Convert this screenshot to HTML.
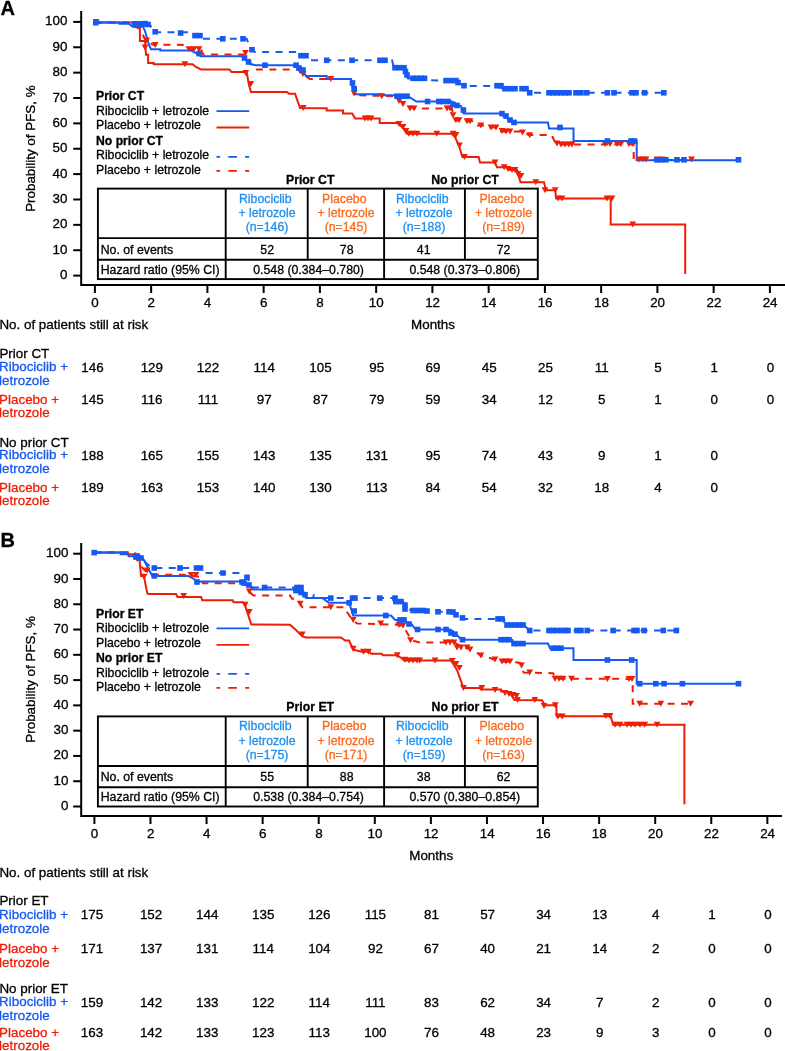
<!DOCTYPE html>
<html><head><meta charset="utf-8"><title>PFS by prior therapy</title>
<style>
html,body{margin:0;padding:0;background:#fff;overflow:hidden;}
svg{display:block;}
text{font-family:"Liberation Sans",Arial,Helvetica,sans-serif;stroke-width:0.3px;}
</style></head>
<body>
<svg width="785" height="1051" viewBox="0 0 785 1051">
<rect width="785" height="1051" fill="#fff"/>
<text x="0.4" y="14.9" font-size="20" font-weight="bold" stroke="#000">A</text>
<path d="M81.2,11 V285 H786" fill="none" stroke="#000" stroke-width="2"/>
<line x1="73.2" y1="275.60" x2="81.2" y2="275.60" stroke="#000" stroke-width="2"/>
<text x="67.4" y="279.1" font-size="13.4" text-anchor="end" stroke="#000">0</text>
<line x1="73.2" y1="250.23" x2="81.2" y2="250.23" stroke="#000" stroke-width="2"/>
<text x="67.4" y="253.7" font-size="13.4" text-anchor="end" stroke="#000">10</text>
<line x1="73.2" y1="224.86" x2="81.2" y2="224.86" stroke="#000" stroke-width="2"/>
<text x="67.4" y="228.4" font-size="13.4" text-anchor="end" stroke="#000">20</text>
<line x1="73.2" y1="199.49" x2="81.2" y2="199.49" stroke="#000" stroke-width="2"/>
<text x="67.4" y="203.0" font-size="13.4" text-anchor="end" stroke="#000">30</text>
<line x1="73.2" y1="174.12" x2="81.2" y2="174.12" stroke="#000" stroke-width="2"/>
<text x="67.4" y="177.6" font-size="13.4" text-anchor="end" stroke="#000">40</text>
<line x1="73.2" y1="148.75" x2="81.2" y2="148.75" stroke="#000" stroke-width="2"/>
<text x="67.4" y="152.3" font-size="13.4" text-anchor="end" stroke="#000">50</text>
<line x1="73.2" y1="123.38" x2="81.2" y2="123.38" stroke="#000" stroke-width="2"/>
<text x="67.4" y="126.9" font-size="13.4" text-anchor="end" stroke="#000">60</text>
<line x1="73.2" y1="98.01" x2="81.2" y2="98.01" stroke="#000" stroke-width="2"/>
<text x="67.4" y="101.5" font-size="13.4" text-anchor="end" stroke="#000">70</text>
<line x1="73.2" y1="72.64" x2="81.2" y2="72.64" stroke="#000" stroke-width="2"/>
<text x="67.4" y="76.1" font-size="13.4" text-anchor="end" stroke="#000">80</text>
<line x1="73.2" y1="47.27" x2="81.2" y2="47.27" stroke="#000" stroke-width="2"/>
<text x="67.4" y="50.8" font-size="13.4" text-anchor="end" stroke="#000">90</text>
<line x1="73.2" y1="21.90" x2="81.2" y2="21.90" stroke="#000" stroke-width="2"/>
<text x="67.4" y="25.4" font-size="13.4" text-anchor="end" stroke="#000">100</text>
<line x1="94.90" y1="285" x2="94.90" y2="293" stroke="#000" stroke-width="2"/>
<text x="95.1" y="306.6" font-size="13.4" text-anchor="middle" stroke="#000">0</text>
<line x1="151.15" y1="285" x2="151.15" y2="293" stroke="#000" stroke-width="2"/>
<text x="151.3" y="306.6" font-size="13.4" text-anchor="middle" stroke="#000">2</text>
<line x1="207.40" y1="285" x2="207.40" y2="293" stroke="#000" stroke-width="2"/>
<text x="207.6" y="306.6" font-size="13.4" text-anchor="middle" stroke="#000">4</text>
<line x1="263.65" y1="285" x2="263.65" y2="293" stroke="#000" stroke-width="2"/>
<text x="263.8" y="306.6" font-size="13.4" text-anchor="middle" stroke="#000">6</text>
<line x1="319.90" y1="285" x2="319.90" y2="293" stroke="#000" stroke-width="2"/>
<text x="320.1" y="306.6" font-size="13.4" text-anchor="middle" stroke="#000">8</text>
<line x1="376.15" y1="285" x2="376.15" y2="293" stroke="#000" stroke-width="2"/>
<text x="376.3" y="306.6" font-size="13.4" text-anchor="middle" stroke="#000">10</text>
<line x1="432.40" y1="285" x2="432.40" y2="293" stroke="#000" stroke-width="2"/>
<text x="432.6" y="306.6" font-size="13.4" text-anchor="middle" stroke="#000">12</text>
<line x1="488.65" y1="285" x2="488.65" y2="293" stroke="#000" stroke-width="2"/>
<text x="488.8" y="306.6" font-size="13.4" text-anchor="middle" stroke="#000">14</text>
<line x1="544.90" y1="285" x2="544.90" y2="293" stroke="#000" stroke-width="2"/>
<text x="545.1" y="306.6" font-size="13.4" text-anchor="middle" stroke="#000">16</text>
<line x1="601.15" y1="285" x2="601.15" y2="293" stroke="#000" stroke-width="2"/>
<text x="601.4" y="306.6" font-size="13.4" text-anchor="middle" stroke="#000">18</text>
<line x1="657.40" y1="285" x2="657.40" y2="293" stroke="#000" stroke-width="2"/>
<text x="657.6" y="306.6" font-size="13.4" text-anchor="middle" stroke="#000">20</text>
<line x1="713.65" y1="285" x2="713.65" y2="293" stroke="#000" stroke-width="2"/>
<text x="713.9" y="306.6" font-size="13.4" text-anchor="middle" stroke="#000">22</text>
<line x1="769.90" y1="285" x2="769.90" y2="293" stroke="#000" stroke-width="2"/>
<text x="770.1" y="306.6" font-size="13.4" text-anchor="middle" stroke="#000">24</text>
<text x="433.0" y="329.1" font-size="13.4" text-anchor="middle" stroke="#000">Months</text>
<text transform="translate(35.0,148.6) rotate(-90)" stroke="#000" font-size="13.4" text-anchor="middle">Probability of PFS, %</text>
<polyline points="95.0,22.4 129.7,22.4 133.0,26.0 139.0,28.3 143.0,35.0 145.5,40.5 150.0,40.5 152.0,44.6 183.0,44.9 186.0,49.2 201.0,49.2 203.0,54.6 246.6,54.6 250.0,62.0 253.0,67.6 255.0,69.4 298.6,69.4 302.0,74.0 305.0,76.0 310.0,78.9 351.0,78.9 354.0,95.2 396.0,96.2 400.0,100.3 404.0,104.4 408.0,106.0 416.0,108.5 452.0,108.5 453.0,115.2 455.0,120.3 465.0,120.3 467.0,121.3 475.0,121.3 477.0,125.4 488.0,125.4 490.0,127.5 499.0,127.5 501.0,131.5 520.0,131.5 522.0,133.5 529.7,135.0 552.0,135.0 553.0,138.0 556.0,143.8 560.0,144.5 633.7,144.5 633.7,160.0 691.5,160.0" fill="none" stroke="#ee1d05" stroke-width="2" stroke-linejoin="miter" stroke-dasharray="7 6.4"/>
<polyline points="95.0,22.4 139.9,22.4 139.9,41.0 145.0,41.0 146.0,54.8 148.1,54.8 148.1,62.9 153.7,62.9 153.7,64.2 192.5,64.2 196.0,67.0 201.0,69.4 229.3,69.4 231.5,72.0 246.6,72.0 249.0,85.0 251.0,92.0 287.0,92.0 289.0,93.7 295.0,93.7 298.0,102.2 300.0,108.0 326.7,108.3 326.7,110.4 343.0,110.4 343.0,113.4 352.2,113.4 355.2,118.5 379.7,118.5 379.7,123.0 398.0,123.0 403.0,128.0 407.0,133.8 452.0,133.8 455.0,137.0 459.0,145.5 462.4,157.1 478.7,157.1 480.0,162.4 495.0,162.4 497.0,167.3 507.0,167.3 510.0,170.0 517.0,170.0 520.5,182.2 544.0,182.2 546.0,190.3 555.2,190.3 556.2,198.5 610.7,198.5 610.7,224.4 685.2,224.4 685.2,274.0" fill="none" stroke="#ee1d05" stroke-width="2" stroke-linejoin="miter"/>
<polyline points="95.0,22.4 133.0,22.4 133.0,25.7 150.6,25.7 153.0,32.3 190.0,32.3 193.0,35.6 203.0,35.6 203.0,38.8 246.6,38.8 251.0,49.5 255.0,52.0 299.0,52.0 301.0,55.7 308.0,55.7 311.0,60.3 392.0,60.3 394.0,67.7 404.0,67.7 408.0,78.5 425.0,78.5 427.0,80.3 456.0,80.6 458.0,82.6 464.0,85.7 466.0,86.0 497.0,86.0 503.0,88.7 527.0,88.7 530.0,92.8 666.0,92.8" fill="none" stroke="#1659f1" stroke-width="2" stroke-linejoin="miter" stroke-dasharray="7 6.4"/>
<polyline points="95.0,22.4 119.5,22.4 119.5,23.7 128.7,23.7 132.8,26.7 143.0,26.7 145.0,31.0 147.0,38.0 149.0,45.0 151.0,49.2 160.3,49.2 160.3,50.6 191.0,50.6 196.0,53.0 201.0,56.3 242.0,56.3 246.0,60.0 250.0,64.0 256.0,65.2 298.0,65.2 302.0,70.0 306.0,75.9 326.7,75.9 326.7,78.9 351.0,78.9 354.0,94.2 381.7,94.2 381.7,95.2 396.0,95.2 408.0,96.2 416.4,101.5 452.0,101.5 456.0,104.0 459.0,105.4 461.0,106.0 463.5,113.6 500.0,113.6 505.0,117.0 510.0,120.0 516.4,122.4 548.0,122.4 549.0,128.5 573.5,128.5 573.5,141.0 636.7,141.0 636.7,160.3 738.7,160.3" fill="none" stroke="#1659f1" stroke-width="2" stroke-linejoin="miter"/>
<path d="M92.8,19.0h6.8l-3.4,6z" fill="#ee1d05"/>
<path d="M143.2,37.5h6.8l-3.4,6z" fill="#ee1d05"/>
<path d="M151.8,42.1h6.8l-3.4,6z" fill="#ee1d05"/>
<path d="M185.6,46.2h6.8l-3.4,6z" fill="#ee1d05"/>
<path d="M190.6,46.2h6.8l-3.4,6z" fill="#ee1d05"/>
<path d="M195.6,46.2h6.8l-3.4,6z" fill="#ee1d05"/>
<path d="M242.1,50.0h6.8l-3.4,6z" fill="#ee1d05"/>
<path d="M296.6,68.0h6.8l-3.4,6z" fill="#ee1d05"/>
<path d="M299.6,71.0h6.8l-3.4,6z" fill="#ee1d05"/>
<path d="M327.4,75.9h6.8l-3.4,6z" fill="#ee1d05"/>
<path d="M350.8,90.2h6.8l-3.4,6z" fill="#ee1d05"/>
<path d="M378.3,93.2h6.8l-3.4,6z" fill="#ee1d05"/>
<path d="M395.6,98.0h6.8l-3.4,6z" fill="#ee1d05"/>
<path d="M399.6,101.0h6.8l-3.4,6z" fill="#ee1d05"/>
<path d="M406.6,105.5h6.8l-3.4,6z" fill="#ee1d05"/>
<path d="M410.6,105.5h6.8l-3.4,6z" fill="#ee1d05"/>
<path d="M443.6,105.5h6.8l-3.4,6z" fill="#ee1d05"/>
<path d="M446.6,105.5h6.8l-3.4,6z" fill="#ee1d05"/>
<path d="M449.6,112.2h6.8l-3.4,6z" fill="#ee1d05"/>
<path d="M452.6,117.3h6.8l-3.4,6z" fill="#ee1d05"/>
<path d="M455.6,117.3h6.8l-3.4,6z" fill="#ee1d05"/>
<path d="M463.6,118.3h6.8l-3.4,6z" fill="#ee1d05"/>
<path d="M466.6,118.3h6.8l-3.4,6z" fill="#ee1d05"/>
<path d="M477.4,122.4h6.8l-3.4,6z" fill="#ee1d05"/>
<path d="M487.6,124.5h6.8l-3.4,6z" fill="#ee1d05"/>
<path d="M492.6,124.5h6.8l-3.4,6z" fill="#ee1d05"/>
<path d="M498.6,128.0h6.8l-3.4,6z" fill="#ee1d05"/>
<path d="M502.6,128.5h6.8l-3.4,6z" fill="#ee1d05"/>
<path d="M506.6,128.5h6.8l-3.4,6z" fill="#ee1d05"/>
<path d="M519.1,129.5h6.8l-3.4,6z" fill="#ee1d05"/>
<path d="M526.3,132.2h6.8l-3.4,6z" fill="#ee1d05"/>
<path d="M553.6,140.5h6.8l-3.4,6z" fill="#ee1d05"/>
<path d="M557.6,141.5h6.8l-3.4,6z" fill="#ee1d05"/>
<path d="M561.6,141.5h6.8l-3.4,6z" fill="#ee1d05"/>
<path d="M565.6,141.5h6.8l-3.4,6z" fill="#ee1d05"/>
<path d="M568.6,141.5h6.8l-3.4,6z" fill="#ee1d05"/>
<path d="M601.6,141.0h6.8l-3.4,6z" fill="#ee1d05"/>
<path d="M606.6,141.0h6.8l-3.4,6z" fill="#ee1d05"/>
<path d="M613.6,141.0h6.8l-3.4,6z" fill="#ee1d05"/>
<path d="M617.6,141.0h6.8l-3.4,6z" fill="#ee1d05"/>
<path d="M625.6,141.0h6.8l-3.4,6z" fill="#ee1d05"/>
<path d="M629.6,141.0h6.8l-3.4,6z" fill="#ee1d05"/>
<path d="M635.6,156.4h6.8l-3.4,6z" fill="#ee1d05"/>
<path d="M639.6,156.4h6.8l-3.4,6z" fill="#ee1d05"/>
<path d="M642.6,156.4h6.8l-3.4,6z" fill="#ee1d05"/>
<path d="M653.6,156.4h6.8l-3.4,6z" fill="#ee1d05"/>
<path d="M658.6,156.4h6.8l-3.4,6z" fill="#ee1d05"/>
<path d="M688.1,156.4h6.8l-3.4,6z" fill="#ee1d05"/>
<path d="M141.6,44.6h6.8l-3.4,6z" fill="#ee1d05"/>
<path d="M181.5,61.2h6.8l-3.4,6z" fill="#ee1d05"/>
<path d="M242.4,70.0h6.8l-3.4,6z" fill="#ee1d05"/>
<path d="M247.4,81.0h6.8l-3.4,6z" fill="#ee1d05"/>
<path d="M299.8,105.0h6.8l-3.4,6z" fill="#ee1d05"/>
<path d="M361.6,115.5h6.8l-3.4,6z" fill="#ee1d05"/>
<path d="M364.6,115.5h6.8l-3.4,6z" fill="#ee1d05"/>
<path d="M367.6,115.5h6.8l-3.4,6z" fill="#ee1d05"/>
<path d="M395.6,121.0h6.8l-3.4,6z" fill="#ee1d05"/>
<path d="M399.6,124.0h6.8l-3.4,6z" fill="#ee1d05"/>
<path d="M402.6,128.0h6.8l-3.4,6z" fill="#ee1d05"/>
<path d="M405.6,130.8h6.8l-3.4,6z" fill="#ee1d05"/>
<path d="M409.6,130.8h6.8l-3.4,6z" fill="#ee1d05"/>
<path d="M413.6,130.8h6.8l-3.4,6z" fill="#ee1d05"/>
<path d="M433.4,130.8h6.8l-3.4,6z" fill="#ee1d05"/>
<path d="M449.6,130.8h6.8l-3.4,6z" fill="#ee1d05"/>
<path d="M452.6,132.0h6.8l-3.4,6z" fill="#ee1d05"/>
<path d="M456.0,142.5h6.8l-3.4,6z" fill="#ee1d05"/>
<path d="M461.1,154.1h6.8l-3.4,6z" fill="#ee1d05"/>
<path d="M491.6,159.4h6.8l-3.4,6z" fill="#ee1d05"/>
<path d="M500.8,164.3h6.8l-3.4,6z" fill="#ee1d05"/>
<path d="M504.6,166.0h6.8l-3.4,6z" fill="#ee1d05"/>
<path d="M508.6,167.0h6.8l-3.4,6z" fill="#ee1d05"/>
<path d="M511.6,167.0h6.8l-3.4,6z" fill="#ee1d05"/>
<path d="M514.6,171.0h6.8l-3.4,6z" fill="#ee1d05"/>
<path d="M517.6,173.0h6.8l-3.4,6z" fill="#ee1d05"/>
<path d="M532.4,179.2h6.8l-3.4,6z" fill="#ee1d05"/>
<path d="M541.6,187.3h6.8l-3.4,6z" fill="#ee1d05"/>
<path d="M551.8,187.3h6.8l-3.4,6z" fill="#ee1d05"/>
<path d="M554.6,195.5h6.8l-3.4,6z" fill="#ee1d05"/>
<path d="M558.6,195.5h6.8l-3.4,6z" fill="#ee1d05"/>
<path d="M603.6,195.5h6.8l-3.4,6z" fill="#ee1d05"/>
<path d="M608.6,195.5h6.8l-3.4,6z" fill="#ee1d05"/>
<path d="M629.3,221.4h6.8l-3.4,6z" fill="#ee1d05"/>
<rect x="152.4" y="29.0" width="5.6" height="5.6" fill="#1659f1"/>
<rect x="177.8" y="30.2" width="5.6" height="5.6" fill="#1659f1"/>
<rect x="192.2" y="32.8" width="5.6" height="5.6" fill="#1659f1"/>
<rect x="197.2" y="32.8" width="5.6" height="5.6" fill="#1659f1"/>
<rect x="220.0" y="36.0" width="5.6" height="5.6" fill="#1659f1"/>
<rect x="240.2" y="36.0" width="5.6" height="5.6" fill="#1659f1"/>
<rect x="249.2" y="46.9" width="5.6" height="5.6" fill="#1659f1"/>
<rect x="298.2" y="52.9" width="5.6" height="5.6" fill="#1659f1"/>
<rect x="303.2" y="52.9" width="5.6" height="5.6" fill="#1659f1"/>
<rect x="323.9" y="57.5" width="5.6" height="5.6" fill="#1659f1"/>
<rect x="349.2" y="57.5" width="5.6" height="5.6" fill="#1659f1"/>
<rect x="377.2" y="57.5" width="5.6" height="5.6" fill="#1659f1"/>
<rect x="382.2" y="57.5" width="5.6" height="5.6" fill="#1659f1"/>
<rect x="392.2" y="64.9" width="5.6" height="5.6" fill="#1659f1"/>
<rect x="396.2" y="64.9" width="5.6" height="5.6" fill="#1659f1"/>
<rect x="401.2" y="64.9" width="5.6" height="5.6" fill="#1659f1"/>
<rect x="402.7" y="68.7" width="5.6" height="5.6" fill="#1659f1"/>
<rect x="404.2" y="72.2" width="5.6" height="5.6" fill="#1659f1"/>
<rect x="410.2" y="75.5" width="5.6" height="5.6" fill="#1659f1"/>
<rect x="414.2" y="75.5" width="5.6" height="5.6" fill="#1659f1"/>
<rect x="418.2" y="75.5" width="5.6" height="5.6" fill="#1659f1"/>
<rect x="421.7" y="75.5" width="5.6" height="5.6" fill="#1659f1"/>
<rect x="443.2" y="77.8" width="5.6" height="5.6" fill="#1659f1"/>
<rect x="448.2" y="77.8" width="5.6" height="5.6" fill="#1659f1"/>
<rect x="453.2" y="77.8" width="5.6" height="5.6" fill="#1659f1"/>
<rect x="455.2" y="79.8" width="5.6" height="5.6" fill="#1659f1"/>
<rect x="461.2" y="82.9" width="5.6" height="5.6" fill="#1659f1"/>
<rect x="494.2" y="82.9" width="5.6" height="5.6" fill="#1659f1"/>
<rect x="498.2" y="82.9" width="5.6" height="5.6" fill="#1659f1"/>
<rect x="502.2" y="85.9" width="5.6" height="5.6" fill="#1659f1"/>
<rect x="507.2" y="85.9" width="5.6" height="5.6" fill="#1659f1"/>
<rect x="512.2" y="85.9" width="5.6" height="5.6" fill="#1659f1"/>
<rect x="519.2" y="85.9" width="5.6" height="5.6" fill="#1659f1"/>
<rect x="523.2" y="85.9" width="5.6" height="5.6" fill="#1659f1"/>
<rect x="526.9" y="90.0" width="5.6" height="5.6" fill="#1659f1"/>
<rect x="546.2" y="90.0" width="5.6" height="5.6" fill="#1659f1"/>
<rect x="550.2" y="90.0" width="5.6" height="5.6" fill="#1659f1"/>
<rect x="554.2" y="90.0" width="5.6" height="5.6" fill="#1659f1"/>
<rect x="558.2" y="90.0" width="5.6" height="5.6" fill="#1659f1"/>
<rect x="562.2" y="90.0" width="5.6" height="5.6" fill="#1659f1"/>
<rect x="566.2" y="90.0" width="5.6" height="5.6" fill="#1659f1"/>
<rect x="573.2" y="90.0" width="5.6" height="5.6" fill="#1659f1"/>
<rect x="578.2" y="90.0" width="5.6" height="5.6" fill="#1659f1"/>
<rect x="584.0" y="90.0" width="5.6" height="5.6" fill="#1659f1"/>
<rect x="604.6" y="90.0" width="5.6" height="5.6" fill="#1659f1"/>
<rect x="611.2" y="90.0" width="5.6" height="5.6" fill="#1659f1"/>
<rect x="629.2" y="90.0" width="5.6" height="5.6" fill="#1659f1"/>
<rect x="633.2" y="90.0" width="5.6" height="5.6" fill="#1659f1"/>
<rect x="641.8" y="90.0" width="5.6" height="5.6" fill="#1659f1"/>
<rect x="661.0" y="90.0" width="5.6" height="5.6" fill="#1659f1"/>
<rect x="142.2" y="20.8" width="5.6" height="5.6" fill="#1659f1"/>
<rect x="145.2" y="21.7" width="5.6" height="5.6" fill="#1659f1"/>
<rect x="93.0" y="19.9" width="5.6" height="5.6" fill="#1659f1"/>
<rect x="131.7" y="21.0" width="5.6" height="5.6" fill="#1659f1"/>
<rect x="136.7" y="21.0" width="5.6" height="5.6" fill="#1659f1"/>
<rect x="141.7" y="21.2" width="5.6" height="5.6" fill="#1659f1"/>
<rect x="196.2" y="50.8" width="5.6" height="5.6" fill="#1659f1"/>
<rect x="241.7" y="55.2" width="5.6" height="5.6" fill="#1659f1"/>
<rect x="245.7" y="59.2" width="5.6" height="5.6" fill="#1659f1"/>
<rect x="262.2" y="62.4" width="5.6" height="5.6" fill="#1659f1"/>
<rect x="293.2" y="62.4" width="5.6" height="5.6" fill="#1659f1"/>
<rect x="296.2" y="65.2" width="5.6" height="5.6" fill="#1659f1"/>
<rect x="300.2" y="67.2" width="5.6" height="5.6" fill="#1659f1"/>
<rect x="349.7" y="80.2" width="5.6" height="5.6" fill="#1659f1"/>
<rect x="351.4" y="85.9" width="5.6" height="5.6" fill="#1659f1"/>
<rect x="394.2" y="93.4" width="5.6" height="5.6" fill="#1659f1"/>
<rect x="399.2" y="93.4" width="5.6" height="5.6" fill="#1659f1"/>
<rect x="404.2" y="93.4" width="5.6" height="5.6" fill="#1659f1"/>
<rect x="424.8" y="98.7" width="5.6" height="5.6" fill="#1659f1"/>
<rect x="436.0" y="98.7" width="5.6" height="5.6" fill="#1659f1"/>
<rect x="440.2" y="98.7" width="5.6" height="5.6" fill="#1659f1"/>
<rect x="445.2" y="98.7" width="5.6" height="5.6" fill="#1659f1"/>
<rect x="450.2" y="101.7" width="5.6" height="5.6" fill="#1659f1"/>
<rect x="454.2" y="102.6" width="5.6" height="5.6" fill="#1659f1"/>
<rect x="460.6" y="107.2" width="5.6" height="5.6" fill="#1659f1"/>
<rect x="499.2" y="110.8" width="5.6" height="5.6" fill="#1659f1"/>
<rect x="503.2" y="113.2" width="5.6" height="5.6" fill="#1659f1"/>
<rect x="507.2" y="117.2" width="5.6" height="5.6" fill="#1659f1"/>
<rect x="511.2" y="119.6" width="5.6" height="5.6" fill="#1659f1"/>
<rect x="557.2" y="124.7" width="5.6" height="5.6" fill="#1659f1"/>
<rect x="604.6" y="138.2" width="5.6" height="5.6" fill="#1659f1"/>
<rect x="628.2" y="138.2" width="5.6" height="5.6" fill="#1659f1"/>
<rect x="631.7" y="138.2" width="5.6" height="5.6" fill="#1659f1"/>
<rect x="654.2" y="157.0" width="5.6" height="5.6" fill="#1659f1"/>
<rect x="658.7" y="157.0" width="5.6" height="5.6" fill="#1659f1"/>
<rect x="663.0" y="157.0" width="5.6" height="5.6" fill="#1659f1"/>
<rect x="674.2" y="157.0" width="5.6" height="5.6" fill="#1659f1"/>
<rect x="681.2" y="157.0" width="5.6" height="5.6" fill="#1659f1"/>
<rect x="735.7" y="157.0" width="5.6" height="5.6" fill="#1659f1"/>
<text x="96.0" y="100.4" font-size="12.2" font-weight="bold" stroke="#000">Prior CT</text>
<text x="96.0" y="114.6" font-size="12.3" stroke="#000">Ribociclib + letrozole</text>
<text x="96.0" y="129.2" font-size="12.3" stroke="#000">Placebo + letrozole</text>
<text x="96.0" y="145.1" font-size="12.2" font-weight="bold" stroke="#000">No prior CT</text>
<text x="96.0" y="159.3" font-size="12.3" stroke="#000">Ribociclib + letrozole</text>
<text x="96.0" y="173.8" font-size="12.3" stroke="#000">Placebo + letrozole</text>
<line x1="216.5" y1="111.2" x2="249.2" y2="111.2" stroke="#1659f1" stroke-width="1.8"/>
<line x1="216.5" y1="127.5" x2="249.2" y2="127.5" stroke="#ee1d05" stroke-width="1.8"/>
<line x1="216.5" y1="156.9" x2="249.2" y2="156.9" stroke="#1659f1" stroke-width="1.8" stroke-dasharray="8.6 8.2" stroke-dashoffset="5"/>
<line x1="216.5" y1="170.9" x2="249.2" y2="170.9" stroke="#ee1d05" stroke-width="1.8" stroke-dasharray="8.6 8.2" stroke-dashoffset="5"/>
<rect x="97.9" y="188.6" width="439.9" height="90.50000000000003" fill="#fff" stroke="#000" stroke-width="1.9"/>
<line x1="225.7" y1="188.6" x2="225.7" y2="279.1" stroke="#000" stroke-width="1.9"/>
<line x1="307.7" y1="188.6" x2="307.7" y2="259.7" stroke="#000" stroke-width="1.9"/>
<line x1="384.1" y1="188.6" x2="384.1" y2="279.1" stroke="#000" stroke-width="1.9"/>
<line x1="464.9" y1="188.6" x2="464.9" y2="259.7" stroke="#000" stroke-width="1.9"/>
<line x1="97.9" y1="238.1" x2="537.8" y2="238.1" stroke="#000" stroke-width="1.9"/>
<line x1="97.9" y1="259.7" x2="537.8" y2="259.7" stroke="#000" stroke-width="1.9"/>
<text x="310.2" y="184.0" font-size="12.3" font-weight="bold" text-anchor="middle" stroke="#000">Prior CT</text>
<text x="465.0" y="184.0" font-size="12.3" font-weight="bold" text-anchor="middle" stroke="#000">No prior CT</text>
<text x="265.3" y="202.5" font-size="12.3" text-anchor="middle" fill="#1e90f0" stroke="#1e90f0">Ribociclib</text>
<text x="267.0" y="217.0" font-size="12.3" text-anchor="middle" fill="#1e90f0" stroke="#1e90f0">+ letrozole</text>
<text x="267.0" y="231.3" font-size="12.3" text-anchor="middle" fill="#1e90f0" stroke="#1e90f0">(n=146)</text>
<text x="344.3" y="202.5" font-size="12.3" text-anchor="middle" fill="#fb6a1e" stroke="#fb6a1e">Placebo</text>
<text x="346.0" y="217.0" font-size="12.3" text-anchor="middle" fill="#fb6a1e" stroke="#fb6a1e">+ letrozole</text>
<text x="346.0" y="231.3" font-size="12.3" text-anchor="middle" fill="#fb6a1e" stroke="#fb6a1e">(n=145)</text>
<text x="422.3" y="202.5" font-size="12.3" text-anchor="middle" fill="#1e90f0" stroke="#1e90f0">Ribociclib</text>
<text x="424.0" y="217.0" font-size="12.3" text-anchor="middle" fill="#1e90f0" stroke="#1e90f0">+ letrozole</text>
<text x="424.0" y="231.3" font-size="12.3" text-anchor="middle" fill="#1e90f0" stroke="#1e90f0">(n=188)</text>
<text x="501.8" y="202.5" font-size="12.3" text-anchor="middle" fill="#fb6a1e" stroke="#fb6a1e">Placebo</text>
<text x="503.5" y="217.0" font-size="12.3" text-anchor="middle" fill="#fb6a1e" stroke="#fb6a1e">+ letrozole</text>
<text x="503.5" y="231.3" font-size="12.3" text-anchor="middle" fill="#fb6a1e" stroke="#fb6a1e">(n=189)</text>
<text x="100.7" y="253.6" font-size="12.3" stroke="#000">No. of events</text>
<text x="100.7" y="273.5" font-size="12.3" stroke="#000">Hazard ratio (95% CI)</text>
<text x="267.2" y="253.6" font-size="12.3" text-anchor="middle" stroke="#000">52</text>
<text x="346.7" y="253.6" font-size="12.3" text-anchor="middle" stroke="#000">78</text>
<text x="423.7" y="253.6" font-size="12.3" text-anchor="middle" stroke="#000">41</text>
<text x="503.6" y="253.6" font-size="12.3" text-anchor="middle" stroke="#000">72</text>
<text x="308.6" y="273.5" font-size="12.3" text-anchor="middle" stroke="#000">0.548 (0.384–0.780)</text>
<text x="464.8" y="273.5" font-size="12.3" text-anchor="middle" stroke="#000">0.548 (0.373–0.806)</text>
<text x="-0.6" y="329.1" font-size="13.4" stroke="#000">No. of patients still at risk</text>
<text x="-0.6" y="358.2" font-size="13.4" stroke="#000">Prior CT</text>
<text x="-0.9" y="371.0" font-size="13.4" fill="#1659f1" stroke="#1659f1">Ribociclib +</text>
<text x="-0.9" y="384.9" font-size="13.4" fill="#1659f1" stroke="#1659f1">letrozole</text>
<text x="92.5" y="371.6" font-size="13.4" text-anchor="middle" stroke="#000">146</text>
<text x="151.8" y="371.6" font-size="13.4" text-anchor="middle" stroke="#000">129</text>
<text x="208.0" y="371.6" font-size="13.4" text-anchor="middle" stroke="#000">122</text>
<text x="264.2" y="371.6" font-size="13.4" text-anchor="middle" stroke="#000">114</text>
<text x="320.5" y="371.6" font-size="13.4" text-anchor="middle" stroke="#000">105</text>
<text x="376.8" y="371.6" font-size="13.4" text-anchor="middle" stroke="#000">95</text>
<text x="433.0" y="371.6" font-size="13.4" text-anchor="middle" stroke="#000">69</text>
<text x="489.2" y="371.6" font-size="13.4" text-anchor="middle" stroke="#000">45</text>
<text x="545.5" y="371.6" font-size="13.4" text-anchor="middle" stroke="#000">25</text>
<text x="601.8" y="371.6" font-size="13.4" text-anchor="middle" stroke="#000">11</text>
<text x="658.0" y="371.6" font-size="13.4" text-anchor="middle" stroke="#000">5</text>
<text x="714.2" y="371.6" font-size="13.4" text-anchor="middle" stroke="#000">1</text>
<text x="770.5" y="371.6" font-size="13.4" text-anchor="middle" stroke="#000">0</text>
<text x="-0.9" y="403.8" font-size="13.4" fill="#ee1d05" stroke="#ee1d05">Placebo +</text>
<text x="-0.9" y="417.4" font-size="13.4" fill="#ee1d05" stroke="#ee1d05">letrozole</text>
<text x="92.5" y="404.4" font-size="13.4" text-anchor="middle" stroke="#000">145</text>
<text x="151.8" y="404.4" font-size="13.4" text-anchor="middle" stroke="#000">116</text>
<text x="208.0" y="404.4" font-size="13.4" text-anchor="middle" stroke="#000">111</text>
<text x="264.2" y="404.4" font-size="13.4" text-anchor="middle" stroke="#000">97</text>
<text x="320.5" y="404.4" font-size="13.4" text-anchor="middle" stroke="#000">87</text>
<text x="376.8" y="404.4" font-size="13.4" text-anchor="middle" stroke="#000">79</text>
<text x="433.0" y="404.4" font-size="13.4" text-anchor="middle" stroke="#000">59</text>
<text x="489.2" y="404.4" font-size="13.4" text-anchor="middle" stroke="#000">34</text>
<text x="545.5" y="404.4" font-size="13.4" text-anchor="middle" stroke="#000">12</text>
<text x="601.8" y="404.4" font-size="13.4" text-anchor="middle" stroke="#000">5</text>
<text x="658.0" y="404.4" font-size="13.4" text-anchor="middle" stroke="#000">1</text>
<text x="714.2" y="404.4" font-size="13.4" text-anchor="middle" stroke="#000">0</text>
<text x="770.5" y="404.4" font-size="13.4" text-anchor="middle" stroke="#000">0</text>
<text x="-0.6" y="446.6" font-size="13.4" stroke="#000">No prior CT</text>
<text x="-0.9" y="459.4" font-size="13.4" fill="#1659f1" stroke="#1659f1">Ribociclib +</text>
<text x="-0.9" y="473.4" font-size="13.4" fill="#1659f1" stroke="#1659f1">letrozole</text>
<text x="92.5" y="460.0" font-size="13.4" text-anchor="middle" stroke="#000">188</text>
<text x="151.8" y="460.0" font-size="13.4" text-anchor="middle" stroke="#000">165</text>
<text x="208.0" y="460.0" font-size="13.4" text-anchor="middle" stroke="#000">155</text>
<text x="264.2" y="460.0" font-size="13.4" text-anchor="middle" stroke="#000">143</text>
<text x="320.5" y="460.0" font-size="13.4" text-anchor="middle" stroke="#000">135</text>
<text x="376.8" y="460.0" font-size="13.4" text-anchor="middle" stroke="#000">131</text>
<text x="433.0" y="460.0" font-size="13.4" text-anchor="middle" stroke="#000">95</text>
<text x="489.2" y="460.0" font-size="13.4" text-anchor="middle" stroke="#000">74</text>
<text x="545.5" y="460.0" font-size="13.4" text-anchor="middle" stroke="#000">43</text>
<text x="601.8" y="460.0" font-size="13.4" text-anchor="middle" stroke="#000">9</text>
<text x="658.0" y="460.0" font-size="13.4" text-anchor="middle" stroke="#000">1</text>
<text x="714.2" y="460.0" font-size="13.4" text-anchor="middle" stroke="#000">0</text>
<text x="-0.9" y="491.5" font-size="13.4" fill="#ee1d05" stroke="#ee1d05">Placebo +</text>
<text x="-0.9" y="505.1" font-size="13.4" fill="#ee1d05" stroke="#ee1d05">letrozole</text>
<text x="92.5" y="492.1" font-size="13.4" text-anchor="middle" stroke="#000">189</text>
<text x="151.8" y="492.1" font-size="13.4" text-anchor="middle" stroke="#000">163</text>
<text x="208.0" y="492.1" font-size="13.4" text-anchor="middle" stroke="#000">153</text>
<text x="264.2" y="492.1" font-size="13.4" text-anchor="middle" stroke="#000">140</text>
<text x="320.5" y="492.1" font-size="13.4" text-anchor="middle" stroke="#000">130</text>
<text x="376.8" y="492.1" font-size="13.4" text-anchor="middle" stroke="#000">113</text>
<text x="433.0" y="492.1" font-size="13.4" text-anchor="middle" stroke="#000">84</text>
<text x="489.2" y="492.1" font-size="13.4" text-anchor="middle" stroke="#000">54</text>
<text x="545.5" y="492.1" font-size="13.4" text-anchor="middle" stroke="#000">32</text>
<text x="601.8" y="492.1" font-size="13.4" text-anchor="middle" stroke="#000">18</text>
<text x="658.0" y="492.1" font-size="13.4" text-anchor="middle" stroke="#000">4</text>
<text x="714.2" y="492.1" font-size="13.4" text-anchor="middle" stroke="#000">0</text>
<text x="0.4" y="547.0" font-size="20" font-weight="bold" stroke="#000">B</text>
<path d="M81.2,543 V816 H782" fill="none" stroke="#000" stroke-width="2"/>
<line x1="73.2" y1="806.50" x2="81.2" y2="806.50" stroke="#000" stroke-width="2"/>
<text x="68.4" y="810.0" font-size="13.4" text-anchor="end" stroke="#000">0</text>
<line x1="73.2" y1="781.22" x2="81.2" y2="781.22" stroke="#000" stroke-width="2"/>
<text x="68.4" y="784.7" font-size="13.4" text-anchor="end" stroke="#000">10</text>
<line x1="73.2" y1="755.94" x2="81.2" y2="755.94" stroke="#000" stroke-width="2"/>
<text x="68.4" y="759.4" font-size="13.4" text-anchor="end" stroke="#000">20</text>
<line x1="73.2" y1="730.66" x2="81.2" y2="730.66" stroke="#000" stroke-width="2"/>
<text x="68.4" y="734.2" font-size="13.4" text-anchor="end" stroke="#000">30</text>
<line x1="73.2" y1="705.38" x2="81.2" y2="705.38" stroke="#000" stroke-width="2"/>
<text x="68.4" y="708.9" font-size="13.4" text-anchor="end" stroke="#000">40</text>
<line x1="73.2" y1="680.10" x2="81.2" y2="680.10" stroke="#000" stroke-width="2"/>
<text x="68.4" y="683.6" font-size="13.4" text-anchor="end" stroke="#000">50</text>
<line x1="73.2" y1="654.82" x2="81.2" y2="654.82" stroke="#000" stroke-width="2"/>
<text x="68.4" y="658.3" font-size="13.4" text-anchor="end" stroke="#000">60</text>
<line x1="73.2" y1="629.54" x2="81.2" y2="629.54" stroke="#000" stroke-width="2"/>
<text x="68.4" y="633.0" font-size="13.4" text-anchor="end" stroke="#000">70</text>
<line x1="73.2" y1="604.26" x2="81.2" y2="604.26" stroke="#000" stroke-width="2"/>
<text x="68.4" y="607.8" font-size="13.4" text-anchor="end" stroke="#000">80</text>
<line x1="73.2" y1="578.98" x2="81.2" y2="578.98" stroke="#000" stroke-width="2"/>
<text x="68.4" y="582.5" font-size="13.4" text-anchor="end" stroke="#000">90</text>
<line x1="73.2" y1="553.70" x2="81.2" y2="553.70" stroke="#000" stroke-width="2"/>
<text x="68.4" y="557.2" font-size="13.4" text-anchor="end" stroke="#000">100</text>
<line x1="94.40" y1="816" x2="94.40" y2="824" stroke="#000" stroke-width="2"/>
<text x="94.6" y="837.8" font-size="13.4" text-anchor="middle" stroke="#000">0</text>
<line x1="150.48" y1="816" x2="150.48" y2="824" stroke="#000" stroke-width="2"/>
<text x="150.7" y="837.8" font-size="13.4" text-anchor="middle" stroke="#000">2</text>
<line x1="206.56" y1="816" x2="206.56" y2="824" stroke="#000" stroke-width="2"/>
<text x="206.8" y="837.8" font-size="13.4" text-anchor="middle" stroke="#000">4</text>
<line x1="262.64" y1="816" x2="262.64" y2="824" stroke="#000" stroke-width="2"/>
<text x="262.8" y="837.8" font-size="13.4" text-anchor="middle" stroke="#000">6</text>
<line x1="318.72" y1="816" x2="318.72" y2="824" stroke="#000" stroke-width="2"/>
<text x="318.9" y="837.8" font-size="13.4" text-anchor="middle" stroke="#000">8</text>
<line x1="374.80" y1="816" x2="374.80" y2="824" stroke="#000" stroke-width="2"/>
<text x="375.0" y="837.8" font-size="13.4" text-anchor="middle" stroke="#000">10</text>
<line x1="430.88" y1="816" x2="430.88" y2="824" stroke="#000" stroke-width="2"/>
<text x="431.1" y="837.8" font-size="13.4" text-anchor="middle" stroke="#000">12</text>
<line x1="486.96" y1="816" x2="486.96" y2="824" stroke="#000" stroke-width="2"/>
<text x="487.2" y="837.8" font-size="13.4" text-anchor="middle" stroke="#000">14</text>
<line x1="543.04" y1="816" x2="543.04" y2="824" stroke="#000" stroke-width="2"/>
<text x="543.2" y="837.8" font-size="13.4" text-anchor="middle" stroke="#000">16</text>
<line x1="599.12" y1="816" x2="599.12" y2="824" stroke="#000" stroke-width="2"/>
<text x="599.3" y="837.8" font-size="13.4" text-anchor="middle" stroke="#000">18</text>
<line x1="655.20" y1="816" x2="655.20" y2="824" stroke="#000" stroke-width="2"/>
<text x="655.4" y="837.8" font-size="13.4" text-anchor="middle" stroke="#000">20</text>
<line x1="711.28" y1="816" x2="711.28" y2="824" stroke="#000" stroke-width="2"/>
<text x="711.5" y="837.8" font-size="13.4" text-anchor="middle" stroke="#000">22</text>
<line x1="767.36" y1="816" x2="767.36" y2="824" stroke="#000" stroke-width="2"/>
<text x="767.6" y="837.8" font-size="13.4" text-anchor="middle" stroke="#000">24</text>
<text x="431.2" y="859.7" font-size="13.4" text-anchor="middle" stroke="#000">Months</text>
<text transform="translate(35.0,679.4) rotate(-90)" stroke="#000" font-size="13.4" text-anchor="middle">Probability of PFS, %</text>
<polyline points="94.2,552.6 128.0,552.6 132.0,555.0 136.0,558.0 140.0,565.0 145.0,570.6 152.3,574.7 187.0,574.7 190.0,575.5 200.0,577.0 203.0,583.3 243.0,583.3 247.0,586.0 249.3,591.6 253.3,595.5 290.0,595.5 292.0,598.7 296.0,598.7 300.2,603.8 302.3,607.3 345.0,607.3 347.0,612.0 353.2,621.1 357.3,623.5 395.2,624.6 403.3,626.0 411.5,640.3 419.7,642.4 454.3,642.4 462.5,647.5 470.6,648.0 480.8,655.6 487.0,657.0 495.0,659.7 501.0,661.5 512.4,662.0 520.5,663.0 523.6,672.6 553.0,673.2 556.0,678.7 632.7,678.9 632.7,703.8 692.0,703.8" fill="none" stroke="#ee1d05" stroke-width="2" stroke-linejoin="miter" stroke-dasharray="7 6.4"/>
<polyline points="94.2,552.6 128.0,552.6 128.0,554.3 139.0,554.3 141.0,576.0 144.0,576.5 147.2,593.0 148.2,594.0 176.0,594.0 177.5,597.0 201.2,597.0 202.2,600.2 232.7,600.2 233.5,602.3 243.2,602.3 245.2,606.0 251.3,624.5 290.0,624.8 296.0,630.0 302.3,636.4 306.3,637.5 341.0,637.5 345.0,640.5 349.1,640.5 353.2,649.7 362.0,651.7 369.5,651.7 371.0,653.8 381.8,653.8 383.0,655.3 397.2,655.3 401.3,658.0 404.4,660.5 451.2,660.5 457.0,670.0 463.4,687.9 479.7,687.9 480.8,689.5 501.1,689.5 501.1,691.4 510.0,693.0 514.4,700.1 541.9,700.3 545.0,705.2 556.4,705.2 556.6,716.2 610.7,716.2 613.2,724.8 684.4,724.8 684.4,804.3" fill="none" stroke="#ee1d05" stroke-width="2" stroke-linejoin="miter"/>
<polyline points="94.2,552.6 134.0,552.6 140.0,556.0 146.0,563.0 152.3,568.0 203.2,568.0 205.3,573.0 241.0,573.0 247.2,577.0 250.0,584.0 253.3,587.5 302.3,587.5 304.3,594.7 313.5,594.7 313.5,598.1 393.0,598.1 394.0,601.6 403.0,601.6 406.4,609.7 428.0,610.0 438.0,611.8 448.0,611.8 456.3,614.8 462.5,617.9 465.0,618.9 496.0,618.9 504.2,619.0 504.2,625.0 523.6,625.0 529.7,630.5 677.0,630.5" fill="none" stroke="#1659f1" stroke-width="2" stroke-linejoin="miter" stroke-dasharray="7 6.4"/>
<polyline points="94.2,552.6 120.7,552.6 120.7,554.3 127.8,554.3 128.8,556.3 134.0,556.3 140.0,557.0 144.0,560.0 148.0,568.0 152.3,575.9 188.0,575.9 193.5,578.7 197.0,581.5 241.0,581.5 247.0,584.0 253.3,589.6 294.1,589.6 300.0,592.0 306.3,598.1 322.6,598.1 328.8,602.8 349.1,602.8 353.2,615.5 391.0,615.5 395.2,619.9 404.4,619.9 408.4,624.0 411.5,624.0 415.6,629.5 450.2,629.5 456.3,634.2 461.4,639.7 499.1,639.7 512.4,640.0 513.4,643.6 548.0,643.6 550.0,648.2 573.5,648.2 573.5,660.0 636.7,660.0 636.7,683.7 738.5,683.7" fill="none" stroke="#1659f1" stroke-width="2" stroke-linejoin="miter"/>
<path d="M143.8,567.6h6.8l-3.4,6z" fill="#ee1d05"/>
<path d="M187.6,572.0h6.8l-3.4,6z" fill="#ee1d05"/>
<path d="M192.6,572.0h6.8l-3.4,6z" fill="#ee1d05"/>
<path d="M245.9,588.6h6.8l-3.4,6z" fill="#ee1d05"/>
<path d="M296.8,600.8h6.8l-3.4,6z" fill="#ee1d05"/>
<path d="M327.4,604.3h6.8l-3.4,6z" fill="#ee1d05"/>
<path d="M349.8,617.0h6.8l-3.4,6z" fill="#ee1d05"/>
<path d="M377.3,620.5h6.8l-3.4,6z" fill="#ee1d05"/>
<path d="M395.6,622.0h6.8l-3.4,6z" fill="#ee1d05"/>
<path d="M399.6,622.5h6.8l-3.4,6z" fill="#ee1d05"/>
<path d="M407.1,637.3h6.8l-3.4,6z" fill="#ee1d05"/>
<path d="M442.6,639.4h6.8l-3.4,6z" fill="#ee1d05"/>
<path d="M446.6,639.4h6.8l-3.4,6z" fill="#ee1d05"/>
<path d="M450.6,639.4h6.8l-3.4,6z" fill="#ee1d05"/>
<path d="M453.6,644.5h6.8l-3.4,6z" fill="#ee1d05"/>
<path d="M457.6,644.5h6.8l-3.4,6z" fill="#ee1d05"/>
<path d="M463.6,644.5h6.8l-3.4,6z" fill="#ee1d05"/>
<path d="M466.6,646.5h6.8l-3.4,6z" fill="#ee1d05"/>
<path d="M477.4,652.6h6.8l-3.4,6z" fill="#ee1d05"/>
<path d="M491.6,656.4h6.8l-3.4,6z" fill="#ee1d05"/>
<path d="M498.6,658.4h6.8l-3.4,6z" fill="#ee1d05"/>
<path d="M502.6,658.4h6.8l-3.4,6z" fill="#ee1d05"/>
<path d="M506.6,658.4h6.8l-3.4,6z" fill="#ee1d05"/>
<path d="M518.1,662.5h6.8l-3.4,6z" fill="#ee1d05"/>
<path d="M526.3,669.6h6.8l-3.4,6z" fill="#ee1d05"/>
<path d="M551.6,675.7h6.8l-3.4,6z" fill="#ee1d05"/>
<path d="M555.6,675.7h6.8l-3.4,6z" fill="#ee1d05"/>
<path d="M559.6,675.7h6.8l-3.4,6z" fill="#ee1d05"/>
<path d="M568.1,675.7h6.8l-3.4,6z" fill="#ee1d05"/>
<path d="M604.0,676.0h6.8l-3.4,6z" fill="#ee1d05"/>
<path d="M625.6,676.0h6.8l-3.4,6z" fill="#ee1d05"/>
<path d="M628.6,676.0h6.8l-3.4,6z" fill="#ee1d05"/>
<path d="M636.3,700.8h6.8l-3.4,6z" fill="#ee1d05"/>
<path d="M657.4,700.8h6.8l-3.4,6z" fill="#ee1d05"/>
<path d="M687.2,700.8h6.8l-3.4,6z" fill="#ee1d05"/>
<path d="M140.7,573.7h6.8l-3.4,6z" fill="#ee1d05"/>
<path d="M180.3,593.0h6.8l-3.4,6z" fill="#ee1d05"/>
<path d="M241.8,601.8h6.8l-3.4,6z" fill="#ee1d05"/>
<path d="M245.9,609.0h6.8l-3.4,6z" fill="#ee1d05"/>
<path d="M298.9,631.4h6.8l-3.4,6z" fill="#ee1d05"/>
<path d="M349.8,645.7h6.8l-3.4,6z" fill="#ee1d05"/>
<path d="M360.0,648.7h6.8l-3.4,6z" fill="#ee1d05"/>
<path d="M365.1,648.7h6.8l-3.4,6z" fill="#ee1d05"/>
<path d="M393.8,652.3h6.8l-3.4,6z" fill="#ee1d05"/>
<path d="M401.6,656.7h6.8l-3.4,6z" fill="#ee1d05"/>
<path d="M405.6,657.5h6.8l-3.4,6z" fill="#ee1d05"/>
<path d="M409.6,657.5h6.8l-3.4,6z" fill="#ee1d05"/>
<path d="M413.6,657.5h6.8l-3.4,6z" fill="#ee1d05"/>
<path d="M416.3,657.5h6.8l-3.4,6z" fill="#ee1d05"/>
<path d="M431.6,657.5h6.8l-3.4,6z" fill="#ee1d05"/>
<path d="M448.8,658.0h6.8l-3.4,6z" fill="#ee1d05"/>
<path d="M452.6,661.0h6.8l-3.4,6z" fill="#ee1d05"/>
<path d="M456.0,665.0h6.8l-3.4,6z" fill="#ee1d05"/>
<path d="M460.0,684.9h6.8l-3.4,6z" fill="#ee1d05"/>
<path d="M478.4,684.9h6.8l-3.4,6z" fill="#ee1d05"/>
<path d="M491.6,687.0h6.8l-3.4,6z" fill="#ee1d05"/>
<path d="M501.6,690.0h6.8l-3.4,6z" fill="#ee1d05"/>
<path d="M505.6,691.0h6.8l-3.4,6z" fill="#ee1d05"/>
<path d="M509.6,692.0h6.8l-3.4,6z" fill="#ee1d05"/>
<path d="M513.0,693.0h6.8l-3.4,6z" fill="#ee1d05"/>
<path d="M514.1,697.1h6.8l-3.4,6z" fill="#ee1d05"/>
<path d="M531.4,697.1h6.8l-3.4,6z" fill="#ee1d05"/>
<path d="M540.6,703.0h6.8l-3.4,6z" fill="#ee1d05"/>
<path d="M551.8,702.2h6.8l-3.4,6z" fill="#ee1d05"/>
<path d="M554.6,713.4h6.8l-3.4,6z" fill="#ee1d05"/>
<path d="M558.9,713.4h6.8l-3.4,6z" fill="#ee1d05"/>
<path d="M602.6,713.0h6.8l-3.4,6z" fill="#ee1d05"/>
<path d="M606.6,713.0h6.8l-3.4,6z" fill="#ee1d05"/>
<path d="M611.6,721.8h6.8l-3.4,6z" fill="#ee1d05"/>
<path d="M616.6,721.8h6.8l-3.4,6z" fill="#ee1d05"/>
<path d="M623.6,721.8h6.8l-3.4,6z" fill="#ee1d05"/>
<path d="M627.6,721.8h6.8l-3.4,6z" fill="#ee1d05"/>
<path d="M631.6,721.8h6.8l-3.4,6z" fill="#ee1d05"/>
<path d="M636.6,721.8h6.8l-3.4,6z" fill="#ee1d05"/>
<path d="M641.3,721.8h6.8l-3.4,6z" fill="#ee1d05"/>
<path d="M653.7,721.8h6.8l-3.4,6z" fill="#ee1d05"/>
<rect x="151.5" y="565.2" width="5.6" height="5.6" fill="#1659f1"/>
<rect x="177.2" y="565.2" width="5.6" height="5.6" fill="#1659f1"/>
<rect x="193.7" y="565.2" width="5.6" height="5.6" fill="#1659f1"/>
<rect x="197.7" y="565.2" width="5.6" height="5.6" fill="#1659f1"/>
<rect x="220.2" y="570.2" width="5.6" height="5.6" fill="#1659f1"/>
<rect x="244.2" y="574.5" width="5.6" height="5.6" fill="#1659f1"/>
<rect x="261.8" y="584.7" width="5.6" height="5.6" fill="#1659f1"/>
<rect x="294.2" y="584.7" width="5.6" height="5.6" fill="#1659f1"/>
<rect x="298.2" y="584.7" width="5.6" height="5.6" fill="#1659f1"/>
<rect x="328.0" y="595.3" width="5.6" height="5.6" fill="#1659f1"/>
<rect x="349.7" y="595.3" width="5.6" height="5.6" fill="#1659f1"/>
<rect x="352.2" y="595.3" width="5.6" height="5.6" fill="#1659f1"/>
<rect x="376.9" y="595.3" width="5.6" height="5.6" fill="#1659f1"/>
<rect x="392.2" y="595.3" width="5.6" height="5.6" fill="#1659f1"/>
<rect x="393.2" y="598.8" width="5.6" height="5.6" fill="#1659f1"/>
<rect x="398.2" y="598.8" width="5.6" height="5.6" fill="#1659f1"/>
<rect x="402.2" y="602.2" width="5.6" height="5.6" fill="#1659f1"/>
<rect x="402.2" y="606.2" width="5.6" height="5.6" fill="#1659f1"/>
<rect x="410.2" y="607.7" width="5.6" height="5.6" fill="#1659f1"/>
<rect x="415.2" y="607.7" width="5.6" height="5.6" fill="#1659f1"/>
<rect x="420.2" y="607.7" width="5.6" height="5.6" fill="#1659f1"/>
<rect x="424.2" y="608.2" width="5.6" height="5.6" fill="#1659f1"/>
<rect x="435.2" y="609.0" width="5.6" height="5.6" fill="#1659f1"/>
<rect x="446.2" y="609.0" width="5.6" height="5.6" fill="#1659f1"/>
<rect x="450.2" y="609.2" width="5.6" height="5.6" fill="#1659f1"/>
<rect x="453.2" y="612.0" width="5.6" height="5.6" fill="#1659f1"/>
<rect x="459.7" y="615.1" width="5.6" height="5.6" fill="#1659f1"/>
<rect x="495.2" y="616.1" width="5.6" height="5.6" fill="#1659f1"/>
<rect x="499.2" y="616.1" width="5.6" height="5.6" fill="#1659f1"/>
<rect x="504.2" y="622.2" width="5.6" height="5.6" fill="#1659f1"/>
<rect x="508.2" y="622.2" width="5.6" height="5.6" fill="#1659f1"/>
<rect x="512.2" y="622.2" width="5.6" height="5.6" fill="#1659f1"/>
<rect x="516.2" y="622.2" width="5.6" height="5.6" fill="#1659f1"/>
<rect x="520.2" y="622.2" width="5.6" height="5.6" fill="#1659f1"/>
<rect x="526.9" y="627.7" width="5.6" height="5.6" fill="#1659f1"/>
<rect x="546.2" y="627.7" width="5.6" height="5.6" fill="#1659f1"/>
<rect x="550.2" y="627.7" width="5.6" height="5.6" fill="#1659f1"/>
<rect x="554.2" y="627.7" width="5.6" height="5.6" fill="#1659f1"/>
<rect x="558.2" y="627.7" width="5.6" height="5.6" fill="#1659f1"/>
<rect x="562.2" y="627.7" width="5.6" height="5.6" fill="#1659f1"/>
<rect x="565.2" y="627.7" width="5.6" height="5.6" fill="#1659f1"/>
<rect x="574.2" y="627.7" width="5.6" height="5.6" fill="#1659f1"/>
<rect x="578.2" y="627.7" width="5.6" height="5.6" fill="#1659f1"/>
<rect x="584.4" y="627.7" width="5.6" height="5.6" fill="#1659f1"/>
<rect x="610.3" y="627.7" width="5.6" height="5.6" fill="#1659f1"/>
<rect x="631.2" y="627.7" width="5.6" height="5.6" fill="#1659f1"/>
<rect x="634.2" y="627.7" width="5.6" height="5.6" fill="#1659f1"/>
<rect x="641.3" y="627.7" width="5.6" height="5.6" fill="#1659f1"/>
<rect x="660.5" y="627.7" width="5.6" height="5.6" fill="#1659f1"/>
<rect x="673.6" y="627.7" width="5.6" height="5.6" fill="#1659f1"/>
<rect x="91.4" y="549.8" width="5.6" height="5.6" fill="#1659f1"/>
<rect x="133.2" y="554.2" width="5.6" height="5.6" fill="#1659f1"/>
<rect x="138.2" y="555.2" width="5.6" height="5.6" fill="#1659f1"/>
<rect x="151.5" y="573.1" width="5.6" height="5.6" fill="#1659f1"/>
<rect x="194.2" y="579.2" width="5.6" height="5.6" fill="#1659f1"/>
<rect x="239.2" y="579.2" width="5.6" height="5.6" fill="#1659f1"/>
<rect x="241.2" y="580.2" width="5.6" height="5.6" fill="#1659f1"/>
<rect x="246.2" y="582.2" width="5.6" height="5.6" fill="#1659f1"/>
<rect x="293.2" y="587.8" width="5.6" height="5.6" fill="#1659f1"/>
<rect x="298.2" y="589.7" width="5.6" height="5.6" fill="#1659f1"/>
<rect x="302.2" y="591.9" width="5.6" height="5.6" fill="#1659f1"/>
<rect x="346.3" y="600.0" width="5.6" height="5.6" fill="#1659f1"/>
<rect x="351.4" y="608.2" width="5.6" height="5.6" fill="#1659f1"/>
<rect x="383.0" y="612.7" width="5.6" height="5.6" fill="#1659f1"/>
<rect x="397.2" y="617.1" width="5.6" height="5.6" fill="#1659f1"/>
<rect x="401.2" y="617.1" width="5.6" height="5.6" fill="#1659f1"/>
<rect x="406.2" y="621.2" width="5.6" height="5.6" fill="#1659f1"/>
<rect x="414.8" y="626.7" width="5.6" height="5.6" fill="#1659f1"/>
<rect x="435.2" y="626.7" width="5.6" height="5.6" fill="#1659f1"/>
<rect x="443.2" y="626.7" width="5.6" height="5.6" fill="#1659f1"/>
<rect x="448.2" y="630.2" width="5.6" height="5.6" fill="#1659f1"/>
<rect x="452.2" y="631.4" width="5.6" height="5.6" fill="#1659f1"/>
<rect x="459.7" y="636.9" width="5.6" height="5.6" fill="#1659f1"/>
<rect x="498.2" y="636.9" width="5.6" height="5.6" fill="#1659f1"/>
<rect x="502.2" y="636.9" width="5.6" height="5.6" fill="#1659f1"/>
<rect x="506.2" y="636.9" width="5.6" height="5.6" fill="#1659f1"/>
<rect x="511.2" y="640.8" width="5.6" height="5.6" fill="#1659f1"/>
<rect x="515.2" y="640.8" width="5.6" height="5.6" fill="#1659f1"/>
<rect x="520.2" y="640.8" width="5.6" height="5.6" fill="#1659f1"/>
<rect x="550.2" y="645.4" width="5.6" height="5.6" fill="#1659f1"/>
<rect x="554.2" y="645.4" width="5.6" height="5.6" fill="#1659f1"/>
<rect x="558.2" y="645.4" width="5.6" height="5.6" fill="#1659f1"/>
<rect x="604.6" y="657.2" width="5.6" height="5.6" fill="#1659f1"/>
<rect x="628.9" y="657.2" width="5.6" height="5.6" fill="#1659f1"/>
<rect x="636.9" y="680.9" width="5.6" height="5.6" fill="#1659f1"/>
<rect x="653.0" y="680.9" width="5.6" height="5.6" fill="#1659f1"/>
<rect x="661.2" y="680.9" width="5.6" height="5.6" fill="#1659f1"/>
<rect x="679.6" y="680.9" width="5.6" height="5.6" fill="#1659f1"/>
<rect x="735.7" y="680.9" width="5.6" height="5.6" fill="#1659f1"/>
<text x="96.0" y="617.6" font-size="12.2" font-weight="bold" stroke="#000">Prior ET</text>
<text x="96.0" y="632.2" font-size="12.3" stroke="#000">Ribociclib + letrozole</text>
<text x="96.0" y="646.9" font-size="12.3" stroke="#000">Placebo + letrozole</text>
<text x="96.0" y="661.6" font-size="12.2" font-weight="bold" stroke="#000">No prior ET</text>
<text x="96.0" y="676.7" font-size="12.3" stroke="#000">Ribociclib + letrozole</text>
<text x="96.0" y="690.7" font-size="12.3" stroke="#000">Placebo + letrozole</text>
<line x1="216.5" y1="628.4" x2="249.2" y2="628.4" stroke="#1659f1" stroke-width="1.8"/>
<line x1="216.5" y1="644.8" x2="249.2" y2="644.8" stroke="#ee1d05" stroke-width="1.8"/>
<line x1="216.5" y1="673.8" x2="249.2" y2="673.8" stroke="#1659f1" stroke-width="1.8" stroke-dasharray="8.6 8.2" stroke-dashoffset="5"/>
<line x1="216.5" y1="687.9" x2="249.2" y2="687.9" stroke="#ee1d05" stroke-width="1.8" stroke-dasharray="8.6 8.2" stroke-dashoffset="5"/>
<rect x="97.9" y="716.4" width="439.9" height="90.10000000000002" fill="#fff" stroke="#000" stroke-width="1.9"/>
<line x1="225.7" y1="716.4" x2="225.7" y2="806.5" stroke="#000" stroke-width="1.9"/>
<line x1="307.7" y1="716.4" x2="307.7" y2="787.3" stroke="#000" stroke-width="1.9"/>
<line x1="384.1" y1="716.4" x2="384.1" y2="806.5" stroke="#000" stroke-width="1.9"/>
<line x1="464.9" y1="716.4" x2="464.9" y2="787.3" stroke="#000" stroke-width="1.9"/>
<line x1="97.9" y1="766.0" x2="537.8" y2="766.0" stroke="#000" stroke-width="1.9"/>
<line x1="97.9" y1="787.3" x2="537.8" y2="787.3" stroke="#000" stroke-width="1.9"/>
<text x="310.2" y="711.4" font-size="12.3" font-weight="bold" text-anchor="middle" stroke="#000">Prior ET</text>
<text x="465.0" y="711.4" font-size="12.3" font-weight="bold" text-anchor="middle" stroke="#000">No prior ET</text>
<text x="265.3" y="730.3" font-size="12.3" text-anchor="middle" fill="#1e90f0" stroke="#1e90f0">Ribociclib</text>
<text x="267.0" y="744.8" font-size="12.3" text-anchor="middle" fill="#1e90f0" stroke="#1e90f0">+ letrozole</text>
<text x="267.0" y="759.1" font-size="12.3" text-anchor="middle" fill="#1e90f0" stroke="#1e90f0">(n=175)</text>
<text x="344.3" y="730.3" font-size="12.3" text-anchor="middle" fill="#fb6a1e" stroke="#fb6a1e">Placebo</text>
<text x="346.0" y="744.8" font-size="12.3" text-anchor="middle" fill="#fb6a1e" stroke="#fb6a1e">+ letrozole</text>
<text x="346.0" y="759.1" font-size="12.3" text-anchor="middle" fill="#fb6a1e" stroke="#fb6a1e">(n=171)</text>
<text x="422.3" y="730.3" font-size="12.3" text-anchor="middle" fill="#1e90f0" stroke="#1e90f0">Ribociclib</text>
<text x="424.0" y="744.8" font-size="12.3" text-anchor="middle" fill="#1e90f0" stroke="#1e90f0">+ letrozole</text>
<text x="424.0" y="759.1" font-size="12.3" text-anchor="middle" fill="#1e90f0" stroke="#1e90f0">(n=159)</text>
<text x="501.8" y="730.3" font-size="12.3" text-anchor="middle" fill="#fb6a1e" stroke="#fb6a1e">Placebo</text>
<text x="503.5" y="744.8" font-size="12.3" text-anchor="middle" fill="#fb6a1e" stroke="#fb6a1e">+ letrozole</text>
<text x="503.5" y="759.1" font-size="12.3" text-anchor="middle" fill="#fb6a1e" stroke="#fb6a1e">(n=163)</text>
<text x="100.7" y="780.8" font-size="12.3" stroke="#000">No. of events</text>
<text x="100.7" y="801.1" font-size="12.3" stroke="#000">Hazard ratio (95% CI)</text>
<text x="267.2" y="780.8" font-size="12.3" text-anchor="middle" stroke="#000">55</text>
<text x="346.7" y="780.8" font-size="12.3" text-anchor="middle" stroke="#000">88</text>
<text x="423.7" y="780.8" font-size="12.3" text-anchor="middle" stroke="#000">38</text>
<text x="503.6" y="780.8" font-size="12.3" text-anchor="middle" stroke="#000">62</text>
<text x="308.6" y="801.1" font-size="12.3" text-anchor="middle" stroke="#000">0.538 (0.384–0.754)</text>
<text x="464.8" y="801.1" font-size="12.3" text-anchor="middle" stroke="#000">0.570 (0.380–0.854)</text>
<text x="-0.6" y="876.5" font-size="13.4" stroke="#000">No. of patients still at risk</text>
<text x="-0.6" y="905.3" font-size="13.4" stroke="#000">Prior ET</text>
<text x="-0.9" y="918.6" font-size="13.4" fill="#1659f1" stroke="#1659f1">Ribociclib +</text>
<text x="-0.9" y="933.4" font-size="13.4" fill="#1659f1" stroke="#1659f1">letrozole</text>
<text x="92.0" y="919.2" font-size="13.4" text-anchor="middle" stroke="#000">175</text>
<text x="151.1" y="919.2" font-size="13.4" text-anchor="middle" stroke="#000">152</text>
<text x="207.2" y="919.2" font-size="13.4" text-anchor="middle" stroke="#000">144</text>
<text x="263.2" y="919.2" font-size="13.4" text-anchor="middle" stroke="#000">135</text>
<text x="319.3" y="919.2" font-size="13.4" text-anchor="middle" stroke="#000">126</text>
<text x="375.4" y="919.2" font-size="13.4" text-anchor="middle" stroke="#000">115</text>
<text x="431.5" y="919.2" font-size="13.4" text-anchor="middle" stroke="#000">81</text>
<text x="487.6" y="919.2" font-size="13.4" text-anchor="middle" stroke="#000">57</text>
<text x="543.6" y="919.2" font-size="13.4" text-anchor="middle" stroke="#000">34</text>
<text x="599.7" y="919.2" font-size="13.4" text-anchor="middle" stroke="#000">13</text>
<text x="655.8" y="919.2" font-size="13.4" text-anchor="middle" stroke="#000">4</text>
<text x="711.9" y="919.2" font-size="13.4" text-anchor="middle" stroke="#000">1</text>
<text x="768.0" y="919.2" font-size="13.4" text-anchor="middle" stroke="#000">0</text>
<text x="-0.9" y="952.7" font-size="13.4" fill="#ee1d05" stroke="#ee1d05">Placebo +</text>
<text x="-0.9" y="967.4" font-size="13.4" fill="#ee1d05" stroke="#ee1d05">letrozole</text>
<text x="92.0" y="953.3" font-size="13.4" text-anchor="middle" stroke="#000">171</text>
<text x="151.1" y="953.3" font-size="13.4" text-anchor="middle" stroke="#000">137</text>
<text x="207.2" y="953.3" font-size="13.4" text-anchor="middle" stroke="#000">131</text>
<text x="263.2" y="953.3" font-size="13.4" text-anchor="middle" stroke="#000">114</text>
<text x="319.3" y="953.3" font-size="13.4" text-anchor="middle" stroke="#000">104</text>
<text x="375.4" y="953.3" font-size="13.4" text-anchor="middle" stroke="#000">92</text>
<text x="431.5" y="953.3" font-size="13.4" text-anchor="middle" stroke="#000">67</text>
<text x="487.6" y="953.3" font-size="13.4" text-anchor="middle" stroke="#000">40</text>
<text x="543.6" y="953.3" font-size="13.4" text-anchor="middle" stroke="#000">21</text>
<text x="599.7" y="953.3" font-size="13.4" text-anchor="middle" stroke="#000">14</text>
<text x="655.8" y="953.3" font-size="13.4" text-anchor="middle" stroke="#000">2</text>
<text x="711.9" y="953.3" font-size="13.4" text-anchor="middle" stroke="#000">0</text>
<text x="768.0" y="953.3" font-size="13.4" text-anchor="middle" stroke="#000">0</text>
<text x="-0.6" y="992.9" font-size="13.4" stroke="#000">No prior ET</text>
<text x="-0.9" y="1006.0" font-size="13.4" fill="#1659f1" stroke="#1659f1">Ribociclib +</text>
<text x="-0.9" y="1019.9" font-size="13.4" fill="#1659f1" stroke="#1659f1">letrozole</text>
<text x="92.0" y="1006.6" font-size="13.4" text-anchor="middle" stroke="#000">159</text>
<text x="151.1" y="1006.6" font-size="13.4" text-anchor="middle" stroke="#000">142</text>
<text x="207.2" y="1006.6" font-size="13.4" text-anchor="middle" stroke="#000">133</text>
<text x="263.2" y="1006.6" font-size="13.4" text-anchor="middle" stroke="#000">122</text>
<text x="319.3" y="1006.6" font-size="13.4" text-anchor="middle" stroke="#000">114</text>
<text x="375.4" y="1006.6" font-size="13.4" text-anchor="middle" stroke="#000">111</text>
<text x="431.5" y="1006.6" font-size="13.4" text-anchor="middle" stroke="#000">83</text>
<text x="487.6" y="1006.6" font-size="13.4" text-anchor="middle" stroke="#000">62</text>
<text x="543.6" y="1006.6" font-size="13.4" text-anchor="middle" stroke="#000">34</text>
<text x="599.7" y="1006.6" font-size="13.4" text-anchor="middle" stroke="#000">7</text>
<text x="655.8" y="1006.6" font-size="13.4" text-anchor="middle" stroke="#000">2</text>
<text x="711.9" y="1006.6" font-size="13.4" text-anchor="middle" stroke="#000">0</text>
<text x="768.0" y="1006.6" font-size="13.4" text-anchor="middle" stroke="#000">0</text>
<text x="-0.9" y="1036.5" font-size="13.4" fill="#ee1d05" stroke="#ee1d05">Placebo +</text>
<text x="-0.9" y="1050.4" font-size="13.4" fill="#ee1d05" stroke="#ee1d05">letrozole</text>
<text x="92.0" y="1037.1" font-size="13.4" text-anchor="middle" stroke="#000">163</text>
<text x="151.1" y="1037.1" font-size="13.4" text-anchor="middle" stroke="#000">142</text>
<text x="207.2" y="1037.1" font-size="13.4" text-anchor="middle" stroke="#000">133</text>
<text x="263.2" y="1037.1" font-size="13.4" text-anchor="middle" stroke="#000">123</text>
<text x="319.3" y="1037.1" font-size="13.4" text-anchor="middle" stroke="#000">113</text>
<text x="375.4" y="1037.1" font-size="13.4" text-anchor="middle" stroke="#000">100</text>
<text x="431.5" y="1037.1" font-size="13.4" text-anchor="middle" stroke="#000">76</text>
<text x="487.6" y="1037.1" font-size="13.4" text-anchor="middle" stroke="#000">48</text>
<text x="543.6" y="1037.1" font-size="13.4" text-anchor="middle" stroke="#000">23</text>
<text x="599.7" y="1037.1" font-size="13.4" text-anchor="middle" stroke="#000">9</text>
<text x="655.8" y="1037.1" font-size="13.4" text-anchor="middle" stroke="#000">3</text>
<text x="711.9" y="1037.1" font-size="13.4" text-anchor="middle" stroke="#000">0</text>
<text x="768.0" y="1037.1" font-size="13.4" text-anchor="middle" stroke="#000">0</text>
</svg>
</body></html>
